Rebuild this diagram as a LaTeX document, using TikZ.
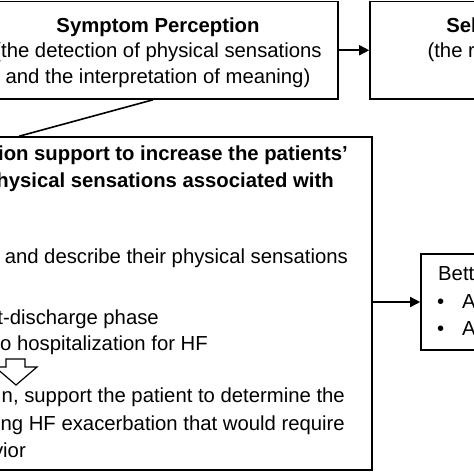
\documentclass[tikz,border=0pt]{standalone}
\usepackage{fontspec}
\setmainfont{Liberation Sans}
\usetikzlibrary{arrows.meta}
\begin{document}
\begin{tikzpicture}[x=1pt,y=-1pt,
  box/.style={draw,line width=1.6pt,inner sep=0pt},
  txt/.style={inner sep=0pt,font=\fontsize{20.3}{26}\selectfont},
  btxt/.style={txt,font=\fontsize{20.3}{26}\selectfont\bfseries},
  conn/.style={line width=1.6pt},
  arr/.style={conn,-{Triangle[length=10pt,width=10pt]}}]
\useasboundingbox (0,0) rectangle (474,474);
\fill[white] (0,0) rectangle (474,474);
% boxes
\node[box,minimum width=360pt,minimum height=97.5pt] (top) at (158,50.25) {};
\node[box,minimum width=360pt,minimum height=97.5pt] (self) at (550,50.25) {};
\node[box,minimum width=394pt,minimum height=333pt] (big) at (175,303.5) {};
\node[box,minimum width=120pt,minimum height=96pt] (bett) at (481,302) {};
% top box text
\node[btxt,anchor=base] (t1) at (158,32) {Symptom Perception};
\node[txt,anchor=base] (t2) at (158,57) {(the detection of physical sensations};
\node[txt,anchor=base] (t3) at (158,83) {and the interpretation of meaning)};
% self box text
\node[btxt,anchor=base] (s1) at (554,32) {Self-care Management};
\node[txt,anchor=base] (s2) at (550,57) {(the response to symptoms};
% big box text
\node[btxt,anchor=base east] (b1) at (348,160) {tion support to increase the patients'};
\node[btxt,anchor=base east] (b2) at (334,187) {physical sensations associated with};
\node[txt,anchor=base east] (b3) at (348,263) {and describe their physical sensations};
\node[txt,anchor=base east] (b4) at (159,324) {st-discharge phase};
\node[txt,anchor=base east] (b5) at (208,350) {to hospitalization for HF};
\node[txt,anchor=base east] (b6) at (345,402) {n, support the patient to determine the};
\node[txt,anchor=base east] (b7) at (345,430) {ng HF exacerbation that would require};
\node[txt,anchor=base east] (b8) at (26,457) {vior};
% hollow arrow
\draw[line width=1.2pt,fill=white] (6,359) -- (25,359) -- (25,367) -- (37,367) -- (16,385) -- (-5,367) -- (6,367) -- cycle;
% bett box text
\node[txt,anchor=base west] (r1) at (438,280) {Better};
\node[txt,anchor=base west] (r2) at (437,308) {•};
\node[txt,anchor=base west] (r3) at (462,308) {A};
\node[txt,anchor=base west] (r4) at (437,335) {•};
\node[txt,anchor=base west] (r5) at (462,335) {A};
% connectors
\draw[arr] (top.east) -- (self.west);
\draw[conn] ([xshift=-5pt]top.south) -- ([xshift=42pt]big.north west);
\draw[arr] (bett.west -| big.east) -- (bett.west);
\end{tikzpicture}
\end{document}
